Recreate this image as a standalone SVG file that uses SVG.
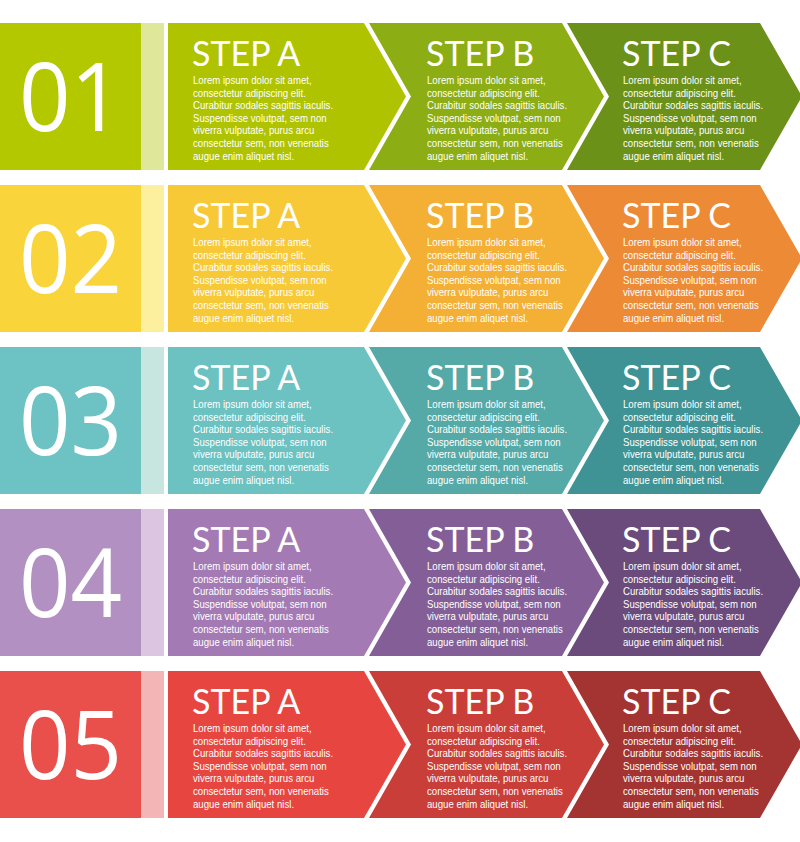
<svg xmlns="http://www.w3.org/2000/svg" xmlns:xlink="http://www.w3.org/1999/xlink" width="800" height="842" viewBox="0 0 800 842">
<style>
.big{font-family:"Open Sans","Noto Sans",sans-serif;font-size:95px;fill:#fff}
.h{font-family:Lato,"Open Sans",sans-serif;font-size:34px;fill:#fff}
.b{font-family:"Liberation Sans",Arial,sans-serif;font-size:11px;fill:#fff}
.n1{fill:#b4c800}.s1{fill:#dfe79b}.a1{fill:#b0c300}.b1{fill:#8cad14}.c1{fill:#6c9119}
.n2{fill:#f9d43a}.s2{fill:#fcef9d}.a2{fill:#f7c937}.b2{fill:#f4b035}.c2{fill:#ed8a35}
.n3{fill:#6dc3c3}.s3{fill:#c6e6df}.a3{fill:#6cc1c1}.b3{fill:#55aaa7}.c3{fill:#3f9394}
.n4{fill:#b291c2}.s4{fill:#dcc5e1}.a4{fill:#a47ab4}.b4{fill:#845f97}.c4{fill:#6a4b7b}
.n5{fill:#e9504c}.s5{fill:#f4b5b7}.a5{fill:#e6463f}.b5{fill:#c93e39}.c5{fill:#a33432}
</style>
<defs>
<path id="shA" d="M168,0 H364 L406,73.5 L364,147 H168 Z"/>
<path id="shB" d="M369,0 H562 L604,73.5 L562,147 H369 L411,73.5 Z"/>
<path id="shC" d="M567,0 H760 L802,73.5 L760,147 H567 L609,73.5 Z"/>
</defs>
<rect width="800" height="842" fill="#fff"/>
<g id="connectors"/>

<g id="row1" transform="translate(0,23)">
<g id="num-01"><rect class="n1" x="0" y="0" width="141" height="147"/><rect class="s1" x="141" y="0" width="23" height="147"/><text class="big" transform="translate(19,107.5) scale(0.95,1)" x="0" y="0">01</text></g>
<g id="step-1a"><use xlink:href="#shA" class="a1"/><text class="h" x="192" y="42.5">STEP A</text>
<text class="b" transform="translate(193,61) scale(0.875,1)"><tspan x="0" y="0">Lorem ipsum dolor sit amet,</tspan><tspan x="0" y="12.6">consectetur adipiscing elit.</tspan><tspan x="0" y="25.2">Curabitur sodales sagittis iaculis.</tspan><tspan x="0" y="37.8">Suspendisse volutpat, sem non</tspan><tspan x="0" y="50.4">viverra vulputate, purus arcu</tspan><tspan x="0" y="63">consectetur sem, non venenatis</tspan><tspan x="0" y="75.6">augue enim aliquet nisl.</tspan></text></g>
<g id="step-1b"><use xlink:href="#shB" class="b1"/><text class="h" x="426" y="42.5">STEP B</text>
<text class="b" transform="translate(427,61) scale(0.875,1)"><tspan x="0" y="0">Lorem ipsum dolor sit amet,</tspan><tspan x="0" y="12.6">consectetur adipiscing elit.</tspan><tspan x="0" y="25.2">Curabitur sodales sagittis iaculis.</tspan><tspan x="0" y="37.8">Suspendisse volutpat, sem non</tspan><tspan x="0" y="50.4">viverra vulputate, purus arcu</tspan><tspan x="0" y="63">consectetur sem, non venenatis</tspan><tspan x="0" y="75.6">augue enim aliquet nisl.</tspan></text></g>
<g id="step-1c"><use xlink:href="#shC" class="c1"/><text class="h" x="622" y="42.5">STEP C</text>
<text class="b" transform="translate(623,61) scale(0.875,1)"><tspan x="0" y="0">Lorem ipsum dolor sit amet,</tspan><tspan x="0" y="12.6">consectetur adipiscing elit.</tspan><tspan x="0" y="25.2">Curabitur sodales sagittis iaculis.</tspan><tspan x="0" y="37.8">Suspendisse volutpat, sem non</tspan><tspan x="0" y="50.4">viverra vulputate, purus arcu</tspan><tspan x="0" y="63">consectetur sem, non venenatis</tspan><tspan x="0" y="75.6">augue enim aliquet nisl.</tspan></text></g>
</g>

<g id="row2" transform="translate(0,185)">
<g id="num-02"><rect class="n2" x="0" y="0" width="141" height="147"/><rect class="s2" x="141" y="0" width="23" height="147"/><text class="big" transform="translate(19,107.5) scale(0.95,1)" x="0" y="0">02</text></g>
<g id="step-2a"><use xlink:href="#shA" class="a2"/><text class="h" x="192" y="42.5">STEP A</text>
<text class="b" transform="translate(193,61) scale(0.875,1)"><tspan x="0" y="0">Lorem ipsum dolor sit amet,</tspan><tspan x="0" y="12.6">consectetur adipiscing elit.</tspan><tspan x="0" y="25.2">Curabitur sodales sagittis iaculis.</tspan><tspan x="0" y="37.8">Suspendisse volutpat, sem non</tspan><tspan x="0" y="50.4">viverra vulputate, purus arcu</tspan><tspan x="0" y="63">consectetur sem, non venenatis</tspan><tspan x="0" y="75.6">augue enim aliquet nisl.</tspan></text></g>
<g id="step-2b"><use xlink:href="#shB" class="b2"/><text class="h" x="426" y="42.5">STEP B</text>
<text class="b" transform="translate(427,61) scale(0.875,1)"><tspan x="0" y="0">Lorem ipsum dolor sit amet,</tspan><tspan x="0" y="12.6">consectetur adipiscing elit.</tspan><tspan x="0" y="25.2">Curabitur sodales sagittis iaculis.</tspan><tspan x="0" y="37.8">Suspendisse volutpat, sem non</tspan><tspan x="0" y="50.4">viverra vulputate, purus arcu</tspan><tspan x="0" y="63">consectetur sem, non venenatis</tspan><tspan x="0" y="75.6">augue enim aliquet nisl.</tspan></text></g>
<g id="step-2c"><use xlink:href="#shC" class="c2"/><text class="h" x="622" y="42.5">STEP C</text>
<text class="b" transform="translate(623,61) scale(0.875,1)"><tspan x="0" y="0">Lorem ipsum dolor sit amet,</tspan><tspan x="0" y="12.6">consectetur adipiscing elit.</tspan><tspan x="0" y="25.2">Curabitur sodales sagittis iaculis.</tspan><tspan x="0" y="37.8">Suspendisse volutpat, sem non</tspan><tspan x="0" y="50.4">viverra vulputate, purus arcu</tspan><tspan x="0" y="63">consectetur sem, non venenatis</tspan><tspan x="0" y="75.6">augue enim aliquet nisl.</tspan></text></g>
</g>

<g id="row3" transform="translate(0,347)">
<g id="num-03"><rect class="n3" x="0" y="0" width="141" height="147"/><rect class="s3" x="141" y="0" width="23" height="147"/><text class="big" transform="translate(19,107.5) scale(0.95,1)" x="0" y="0">03</text></g>
<g id="step-3a"><use xlink:href="#shA" class="a3"/><text class="h" x="192" y="42.5">STEP A</text>
<text class="b" transform="translate(193,61) scale(0.875,1)"><tspan x="0" y="0">Lorem ipsum dolor sit amet,</tspan><tspan x="0" y="12.6">consectetur adipiscing elit.</tspan><tspan x="0" y="25.2">Curabitur sodales sagittis iaculis.</tspan><tspan x="0" y="37.8">Suspendisse volutpat, sem non</tspan><tspan x="0" y="50.4">viverra vulputate, purus arcu</tspan><tspan x="0" y="63">consectetur sem, non venenatis</tspan><tspan x="0" y="75.6">augue enim aliquet nisl.</tspan></text></g>
<g id="step-3b"><use xlink:href="#shB" class="b3"/><text class="h" x="426" y="42.5">STEP B</text>
<text class="b" transform="translate(427,61) scale(0.875,1)"><tspan x="0" y="0">Lorem ipsum dolor sit amet,</tspan><tspan x="0" y="12.6">consectetur adipiscing elit.</tspan><tspan x="0" y="25.2">Curabitur sodales sagittis iaculis.</tspan><tspan x="0" y="37.8">Suspendisse volutpat, sem non</tspan><tspan x="0" y="50.4">viverra vulputate, purus arcu</tspan><tspan x="0" y="63">consectetur sem, non venenatis</tspan><tspan x="0" y="75.6">augue enim aliquet nisl.</tspan></text></g>
<g id="step-3c"><use xlink:href="#shC" class="c3"/><text class="h" x="622" y="42.5">STEP C</text>
<text class="b" transform="translate(623,61) scale(0.875,1)"><tspan x="0" y="0">Lorem ipsum dolor sit amet,</tspan><tspan x="0" y="12.6">consectetur adipiscing elit.</tspan><tspan x="0" y="25.2">Curabitur sodales sagittis iaculis.</tspan><tspan x="0" y="37.8">Suspendisse volutpat, sem non</tspan><tspan x="0" y="50.4">viverra vulputate, purus arcu</tspan><tspan x="0" y="63">consectetur sem, non venenatis</tspan><tspan x="0" y="75.6">augue enim aliquet nisl.</tspan></text></g>
</g>

<g id="row4" transform="translate(0,509)">
<g id="num-04"><rect class="n4" x="0" y="0" width="141" height="147"/><rect class="s4" x="141" y="0" width="23" height="147"/><text class="big" transform="translate(19,107.5) scale(0.95,1)" x="0" y="0">04</text></g>
<g id="step-4a"><use xlink:href="#shA" class="a4"/><text class="h" x="192" y="42.5">STEP A</text>
<text class="b" transform="translate(193,61) scale(0.875,1)"><tspan x="0" y="0">Lorem ipsum dolor sit amet,</tspan><tspan x="0" y="12.6">consectetur adipiscing elit.</tspan><tspan x="0" y="25.2">Curabitur sodales sagittis iaculis.</tspan><tspan x="0" y="37.8">Suspendisse volutpat, sem non</tspan><tspan x="0" y="50.4">viverra vulputate, purus arcu</tspan><tspan x="0" y="63">consectetur sem, non venenatis</tspan><tspan x="0" y="75.6">augue enim aliquet nisl.</tspan></text></g>
<g id="step-4b"><use xlink:href="#shB" class="b4"/><text class="h" x="426" y="42.5">STEP B</text>
<text class="b" transform="translate(427,61) scale(0.875,1)"><tspan x="0" y="0">Lorem ipsum dolor sit amet,</tspan><tspan x="0" y="12.6">consectetur adipiscing elit.</tspan><tspan x="0" y="25.2">Curabitur sodales sagittis iaculis.</tspan><tspan x="0" y="37.8">Suspendisse volutpat, sem non</tspan><tspan x="0" y="50.4">viverra vulputate, purus arcu</tspan><tspan x="0" y="63">consectetur sem, non venenatis</tspan><tspan x="0" y="75.6">augue enim aliquet nisl.</tspan></text></g>
<g id="step-4c"><use xlink:href="#shC" class="c4"/><text class="h" x="622" y="42.5">STEP C</text>
<text class="b" transform="translate(623,61) scale(0.875,1)"><tspan x="0" y="0">Lorem ipsum dolor sit amet,</tspan><tspan x="0" y="12.6">consectetur adipiscing elit.</tspan><tspan x="0" y="25.2">Curabitur sodales sagittis iaculis.</tspan><tspan x="0" y="37.8">Suspendisse volutpat, sem non</tspan><tspan x="0" y="50.4">viverra vulputate, purus arcu</tspan><tspan x="0" y="63">consectetur sem, non venenatis</tspan><tspan x="0" y="75.6">augue enim aliquet nisl.</tspan></text></g>
</g>

<g id="row5" transform="translate(0,671)">
<g id="num-05"><rect class="n5" x="0" y="0" width="141" height="147"/><rect class="s5" x="141" y="0" width="23" height="147"/><text class="big" transform="translate(19,107.5) scale(0.95,1)" x="0" y="0">05</text></g>
<g id="step-5a"><use xlink:href="#shA" class="a5"/><text class="h" x="192" y="42.5">STEP A</text>
<text class="b" transform="translate(193,61) scale(0.875,1)"><tspan x="0" y="0">Lorem ipsum dolor sit amet,</tspan><tspan x="0" y="12.6">consectetur adipiscing elit.</tspan><tspan x="0" y="25.2">Curabitur sodales sagittis iaculis.</tspan><tspan x="0" y="37.8">Suspendisse volutpat, sem non</tspan><tspan x="0" y="50.4">viverra vulputate, purus arcu</tspan><tspan x="0" y="63">consectetur sem, non venenatis</tspan><tspan x="0" y="75.6">augue enim aliquet nisl.</tspan></text></g>
<g id="step-5b"><use xlink:href="#shB" class="b5"/><text class="h" x="426" y="42.5">STEP B</text>
<text class="b" transform="translate(427,61) scale(0.875,1)"><tspan x="0" y="0">Lorem ipsum dolor sit amet,</tspan><tspan x="0" y="12.6">consectetur adipiscing elit.</tspan><tspan x="0" y="25.2">Curabitur sodales sagittis iaculis.</tspan><tspan x="0" y="37.8">Suspendisse volutpat, sem non</tspan><tspan x="0" y="50.4">viverra vulputate, purus arcu</tspan><tspan x="0" y="63">consectetur sem, non venenatis</tspan><tspan x="0" y="75.6">augue enim aliquet nisl.</tspan></text></g>
<g id="step-5c"><use xlink:href="#shC" class="c5"/><text class="h" x="622" y="42.5">STEP C</text>
<text class="b" transform="translate(623,61) scale(0.875,1)"><tspan x="0" y="0">Lorem ipsum dolor sit amet,</tspan><tspan x="0" y="12.6">consectetur adipiscing elit.</tspan><tspan x="0" y="25.2">Curabitur sodales sagittis iaculis.</tspan><tspan x="0" y="37.8">Suspendisse volutpat, sem non</tspan><tspan x="0" y="50.4">viverra vulputate, purus arcu</tspan><tspan x="0" y="63">consectetur sem, non venenatis</tspan><tspan x="0" y="75.6">augue enim aliquet nisl.</tspan></text></g>
</g>
</svg>
